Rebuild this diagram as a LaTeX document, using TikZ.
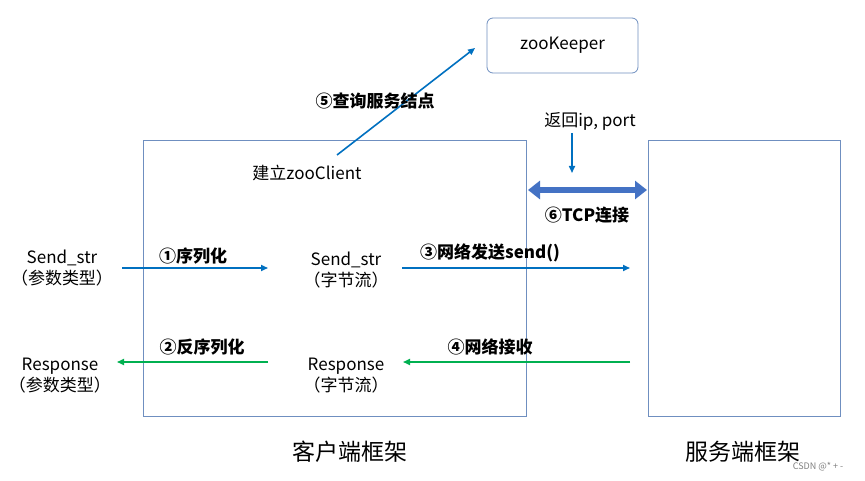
\documentclass[tikz,border=0pt]{standalone}
\usepackage{fontspec}
\setmainfont{Noto Sans CJK SC}
\usetikzlibrary{arrows.meta}
\definecolor{ablue}{HTML}{0070C0}
\definecolor{agreen}{HTML}{00B050}
\definecolor{frame}{HTML}{6F8FC0}
\definecolor{fat}{HTML}{4472C4}
\begin{document}
\begin{tikzpicture}[x=1pt,y=-1pt,
  txt/.style={font=\fontsize{17}{21}\selectfont, align=center, inner sep=0pt},
  lbl/.style={font=\fontsize{17}{21}\selectfont\bfseries, inner sep=0pt},
  big/.style={font=\fontsize{23}{27}\selectfont, inner sep=0pt},
  ba/.style={ablue, line width=1.6pt, -{Triangle[length=7pt,width=6pt]}},
  ga/.style={agreen, line width=1.6pt, -{Triangle[length=7pt,width=6pt]}}]
\useasboundingbox (0,0) rectangle (865,481);
\fill[white] (0,0) rectangle (865,481);
% frames
\node[draw=frame, thick, rounded corners=6pt, minimum width=151pt, minimum height=55pt, txt] (zk) at (562.5,45.5) {zooKeeper};
\node[draw=frame, line width=0.8pt, minimum width=383pt, minimum height=276pt] (cli) at (334.5,278) {};
\node[draw=frame, line width=0.8pt, minimum width=192pt, minimum height=276pt] (srv) at (744,278) {};
\node[big] (cliT) at (350,452) {客户端框架};
\node[big] (srvT) at (743,452) {服务端框架};
% zookeeper query
\node[txt] (zc) at (307,173) {建立zooClient};
\coordinate (q1) at (337,155);
\coordinate (q2) at (475,48);
\draw[ba] (q1) -- (q2);
\node[lbl] (l5) at (375,101) {⑤查询服务结点};
\node[txt] (ret) at (590,121) {返回ip, port};
\coordinate (r1) at (572,133);
\coordinate (r2) at (572,173);
\draw[ba] (r1) -- (r2);
\coordinate (t1) at (528,190);
\coordinate (t2) at (647,190);
\draw[fat, line width=6pt, {Triangle[length=12pt,width=18pt]}-{Triangle[length=12pt,width=18pt]}] (t1) -- (t2);
\node[lbl] (l6) at (587,215) {⑥TCP连接};
% send path
\node[txt] (s1) at (62,268) {Send\_str\\（参数类型）};
\node[txt] (s2) at (346,270) {Send\_str\\（字节流）};
\coordinate (s3) at (630,268);
\draw[ba] (122,268) -- (268,268);
\draw[ba] (402,268) -- (s3);
\node[lbl] (l1) at (193,256) {①序列化};
\node[lbl] (l3) at (490,253) {③网络发送send()};
% receive path
\node[txt] (p1) at (60,376) {Response\\（参数类型）};
\node[txt] (p2) at (346,376) {Response\\（字节流）};
\coordinate (p3) at (630,362);
\draw[ga] (268,362) -- (117,362);
\draw[ga] (p3) -- (403,362);
\node[lbl] (l2) at (202,347) {②反序列化};
\node[lbl] (l4) at (490,347) {④网络接收};
\node[font=\fontsize{9}{10}\selectfont, text=gray, inner sep=0pt] (wm) at (818,467) {CSDN @* + -};
\end{tikzpicture}
\end{document}
